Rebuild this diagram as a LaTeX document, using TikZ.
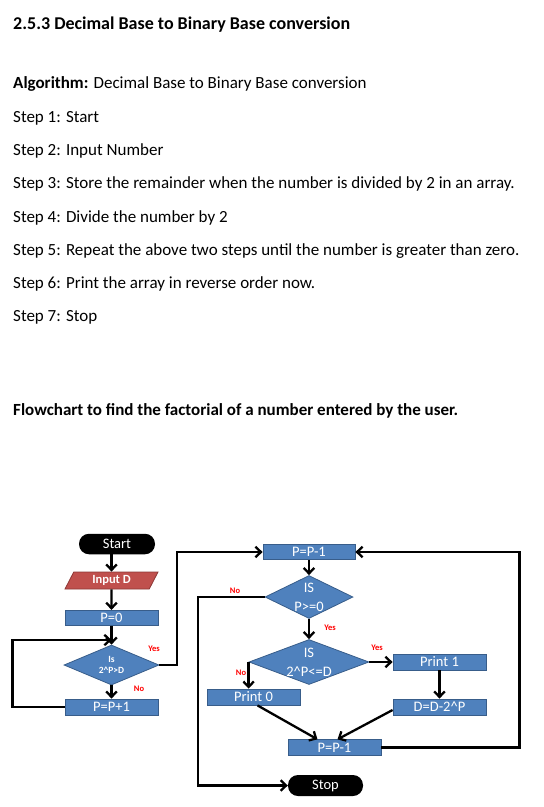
\documentclass[tikz,border=0pt]{standalone}
\usepackage{fontspec}
\setmainfont{Carlito}
\usetikzlibrary{shapes.geometric,arrows.meta,calc}
\definecolor{boxblue}{HTML}{4F81BD}
\definecolor{boxblueline}{HTML}{385D8A}
\definecolor{boxred}{HTML}{C0504D}
\definecolor{boxredline}{HTML}{8C3836}
\definecolor{lblred}{HTML}{FF0000}
\begin{document}
\begin{tikzpicture}[x=1pt,y=-1pt,
  body/.style={anchor=base west,inner sep=0,font=\fontsize{17}{20}\selectfont},
  heading/.style={anchor=base west,inner sep=0,font=\bfseries\fontsize{18}{22}\selectfont},
  procbox/.style={rectangle,fill=boxblue,draw=boxblueline,line width=0.8pt,text=white,
    font=\fontsize{14.5}{15}\selectfont,inner sep=0,minimum width=93pt,minimum height=15.5pt},
  pill/.style={rectangle,rounded corners=10pt,fill=black,text=white,inner sep=0,
    font=\fontsize{14.5}{15}\selectfont,minimum width=76pt,minimum height=20.5pt},
  iobox/.style={trapezium,trapezium left angle=49,trapezium right angle=131,
    trapezium stretches body,fill=boxred,draw=boxredline,line width=0.8pt,text=white,
    font=\bfseries\fontsize{12.5}{13}\selectfont,inner sep=0,minimum width=93pt,minimum height=17pt},
  decision/.style={diamond,fill=boxblue,draw=boxblueline,line width=0.8pt,inner sep=0},
  dtxt/.style={text=white,align=center,inner sep=0,font=\fontsize{14.5}{19}\selectfont},
  dtxtsmall/.style={text=white,align=center,inner sep=0,font=\bfseries\fontsize{9.5}{11}\selectfont},
  lbl/.style={text=lblred,inner sep=0,font=\bfseries\fontsize{8.5}{9}\selectfont},
  conn/.style={line width=2.3pt,black},
  arr/.style={conn,-{Straight Barb[length=5.5pt,width=10.5pt]}}
]
\useasboundingbox (0,0) rectangle (544,807);
% text
\node[heading] (t0) at (13,29) {2.5.3 Decimal Base to Binary Base conversion};
\node[body] (t1) at (13,88) {\textbf{Algorithm:} Decimal Base to Binary Base conversion};
\node[body] (t2) at (13,122) {Step 1: Start};
\node[body] (t3) at (13,155) {Step 2: Input Number};
\node[body] (t4) at (13,188) {Step 3: Store the remainder when the number is divided by 2 in an array.};
\node[body] (t5) at (13,222) {Step 4: Divide the number by 2};
\node[body] (t6) at (13,255) {Step 5: Repeat the above two steps until the number is greater than zero.};
\node[body] (t7) at (13,288) {Step 6: Print the array in reverse order now.};
\node[body] (t8) at (13,321) {Step 7: Stop};
\node[body,font=\bfseries\fontsize{17}{20}\selectfont] (t9) at (13,415) {Flowchart to find the factorial of a number entered by the user.};
% flowchart nodes
\node[pill] (start) at (117,544) {Start};
\node[iobox] (inp) at (111.5,580.5) {Input D};
\node[procbox] (p0) at (111.5,618) {P=0};
\node[decision,minimum width=95pt,minimum height=40pt,
  label={[dtxtsmall]center:{Is\\2\textasciicircum P>D}}] (d1) at (111.5,665) {};
\node[procbox,minimum height=16pt] (pp1) at (111.5,707) {P=P+1};
\node[procbox,minimum width=92pt] (pa) at (309,552) {P=P-1};
\node[decision,minimum width=88pt,minimum height=43pt,
  label={[dtxt]center:{IS\\P>=0}}] (d2) at (309,597) {};
\node[decision,minimum width=120pt,minimum height=45pt,
  label={[dtxt]center:{IS\\2\textasciicircum P<=D}}] (d3) at (309,662) {};
\node[procbox,minimum height=16pt] (p0b) at (253.5,697) {Print 0};
\node[procbox,minimum height=16pt] (p1) at (439.5,662) {Print 1};
\node[procbox,minimum height=16pt] (dd) at (439.5,707) {D=D-2\textasciicircum P};
\node[procbox] (pb) at (334.5,747.5) {P=P-1};
\node[pill,minimum width=75pt,minimum height=21pt] (stop) at (325.5,785.5) {Stop};
% helper coordinates
\coordinate (m1) at (111.5,640);
\coordinate (cyes) at (177,552);
% connectors
\draw[arr] (start.south -| inp.north) -- (inp.north);
\draw[arr] (inp.south) -- (p0.north);
\draw[arr] (p0.south) -- (d1.north);
\draw[arr] (d1.south) -- (pp1.north);
\draw[arr] (pp1.west) -- ++(-52,0) |- (m1);
\draw[arr] (d1.east) -| (cyes) -- (pa.west);
\draw[arr] (pa.south) -- (d2.north);
\draw[arr] (d2.west) -| ([xshift=-90pt]stop.west) -- (stop.west);
\draw[arr] (d2.south) -- (d3.north);
\draw[arr] (d3.east) -- (p1.west);
\draw[arr] (d3.west) -- (d3.west |- p0b.north);
\draw[arr] (p1.south) -- (dd.north);
\draw[arr] ([xshift=4pt]p0b.south) -- ([xshift=-17pt]pb.north);
\draw[arr] ([yshift=-3pt]dd.west) -- ([xshift=3pt]pb.north);
\draw[arr] (pb.east) -- ++(138,0) |- (pa.east);
% branch labels
\node[lbl] (lno1) at (139,689) {No};
\node[lbl] (lyes1) at (154,649) {Yes};
\node[lbl] (lno2) at (235,591) {No};
\node[lbl] (lyes2) at (330,628) {Yes};
\node[lbl] (lyes3) at (377,648) {Yes};
\node[lbl] (lno3) at (241,673) {No};
\end{tikzpicture}
\end{document}
